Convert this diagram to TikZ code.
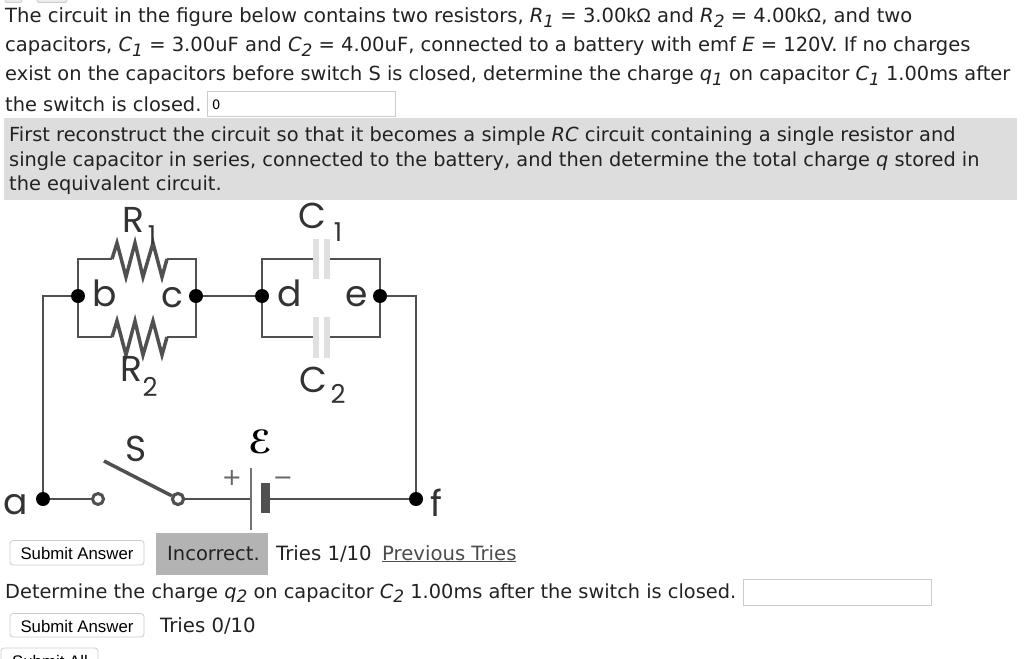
\documentclass[tikz,border=0pt]{standalone}
\usepackage{fontspec}
\setmainfont{DejaVu Sans}
\newfontfamily\btnfont{Liberation Sans}
\newfontfamily\figfont{Poppins}
\newcommand{\mi}[1]{\textit{#1}}
\newcommand{\sbs}[1]{\raisebox{-4.5pt}{\fontsize{17}{20}\selectfont\textit{#1}}}
\newcommand{\ohm}{{\btnfont kΩ}}
\newcommand{\sz}[1]{\fontsize{#1}{24}\selectfont}
\definecolor{txt}{HTML}{222222}
\definecolor{wirec}{HTML}{505050}
\definecolor{hintbg}{HTML}{DDDDDD}
\definecolor{badbg}{HTML}{B3B3B3}
\definecolor{boxline}{HTML}{CCCCCC}
\tikzset{
  x=1pt,y=-1pt,
  page/.style={anchor=base west,inner sep=0pt,font=\sz{19.4},text=txt},
  wire/.style={draw=wirec,line width=1.3pt},
  heavy/.style={draw=wirec,line width=3.5pt,line join=miter},
  dot/.style={circle,fill=black,inner sep=0pt,minimum size=14pt},
  term/.style={circle,draw=wirec,line width=3pt,fill=white,inner sep=0pt,minimum size=11pt},
  fig/.style={inner sep=0pt,font=\figfont\fontsize{36}{40}\selectfont,text=black!80},
  figsub/.style={inner sep=0pt,font=\figfont\fontsize{26}{30}\selectfont,text=black!80},
  button/.style={draw=boxline,fill=white,rounded corners=3pt,line width=0.8pt},
  stub/.style={draw=boxline,fill=black!8,rounded corners=2pt,line width=0.8pt},
  btntext/.style={inner sep=0pt,font=\btnfont\fontsize{16.8}{20}\selectfont,text=black},
  inputbox/.style={draw=boxline,fill=white,line width=1pt},
}
\begin{document}
\begin{tikzpicture}
\path[use as bounding box] (0,0) rectangle (1024,658);
\clip (0,0) rectangle (1024,658);
\fill[white] (0,0) rectangle (1024,658);
% cut-off buttons at the top edge
\path[stub] (5,-20) rectangle (22,2.5);
\path[stub] (37,-20) rectangle (67,2.5);
% question text
\node[page,font=\sz{19.55}] (l1) at (5,23) {The circuit in the figure below contains two resistors, \mi{R}\sbs{1} = 3.00\ohm{} and \mi{R}\sbs{2} = 4.00\ohm, and two};
\node[page,font=\sz{19.52}] (l2) at (5,52) {capacitors, \mi{C}\sbs{1} = 3.00uF and \mi{C}\sbs{2} = 4.00uF, connected to a battery with emf \mi{E} = 120V. If no charges};
\node[page,font=\sz{19.37}] (l3) at (5,81) {exist on the capacitors before switch S is closed, determine the charge \mi{q}\sbs{1} on capacitor \mi{C}\sbs{1} 1.00ms after};
\node[page] (l4) at (5,111) {the switch is closed.};
\path[inputbox] (207.5,91.5) rectangle (395.5,116.5);
\node[btntext,anchor=base west,font=\fontsize{13}{15}\selectfont] (val) at (212,110) {0};
% hint
\fill[hintbg] (4,118) rectangle (1017,200);
\node[page] (h1) at (9,141) {First reconstruct the circuit so that it becomes a simple \mi{RC} circuit containing a single resistor and};
\node[page,font=\sz{19.36}] (h2) at (9,166) {single capacitor in series, connected to the battery, and then determine the total charge \mi{q} stored in};
\node[page] (h3) at (9,190) {the equivalent circuit.};
% circuit nodes
\node[dot] (a) at (43,499) {};
\node[dot] (f) at (416,499) {};
\node[dot] (b) at (78,296) {};
\node[dot] (c) at (196,296) {};
\node[dot] (d) at (262,296) {};
\node[dot] (e) at (380,296) {};
\node[term] (s1) at (98,499) {};
\node[term] (s2) at (178,499) {};
\coordinate (r1l) at (112,259); \coordinate (r1r) at (167,259);
\coordinate (r2l) at (112,337); \coordinate (r2r) at (167,337);
\coordinate (c1l) at (314,259); \coordinate (c1r) at (329,259);
\coordinate (c2l) at (314,337); \coordinate (c2r) at (329,337);
\coordinate (batp) at (251,499); \coordinate (batm) at (265,499);
\coordinate (lever) at (104,461);
% wires
\draw[wire] (b) -- (b|-r1l) -- (r1l);
\draw[wire] (r1r) -- (c|-r1r) -- (c);
\draw[wire] (b) -- (b|-r2l) -- (r2l);
\draw[wire] (r2r) -- (c|-r2r) -- (c);
\draw[wire] (d) -- (d|-c1l) -- (c1l);
\draw[wire] (c1r) -- (e|-c1r) -- (e);
\draw[wire] (d) -- (d|-c2l) -- (c2l);
\draw[wire] (c2r) -- (e|-c2r) -- (e);
\draw[wire] (c) -- (d);
\draw[wire] (b) -| (a);
\draw[wire] (e) -| (f);
\draw[wire] (a) -- (s1);
\draw[wire] (s2) -- (batp);
\draw[wire] (batm) -- (f);
% resistors
\draw[heavy] (r1l) -- ++(5,-16) -- ++(9,34) -- ++(9,-34) -- ++(8,34) -- ++(10,-34) -- ++(9,34) -- (r1r);
\draw[heavy] (r2l) -- ++(5,-16) -- ++(9,34) -- ++(9,-34) -- ++(8,34) -- ++(10,-34) -- ++(9,34) -- (r2r);
% capacitors
\draw[draw=black!12,line width=5.5pt] (316,239) -- (316,279) (327,239) -- (327,279);
\draw[draw=black!12,line width=5.5pt] (316,317) -- (316,358) (327,317) -- (327,358);
% switch
\draw[wirec,line width=3.5pt] (lever) -- (s2);
\node[term] at (s2) {};
% battery
\draw[draw=black!55,line width=1.5pt] (251,468) -- (251,530);
\fill[wirec] (260.5,483) rectangle (269.5,513);
\node[inner sep=0pt,font=\fontsize{24}{24}\selectfont,text=black!60] (plus) at (232,478) {+};
\node[inner sep=0pt,font=\fontsize{24}{24}\selectfont,text=black!60] (minus) at (283,481) {−};
% circuit labels
\node[fig] (lb) at (105,293.5) {b};
\node[fig] (lc) at (172.5,298) {c};
\node[fig] (ld) at (289.5,293.5) {d};
\node[fig] (le) at (356.5,297) {e};
\node[fig] (la) at (16,505) {a};
\node[fig] (lf) at (436,503) {f};
\node[fig] (lS) at (136,449) {S};
\node[inner sep=0pt,font=\fontsize{32}{34}\itshape\bfseries\selectfont,text=black] (lE) at (260,442) {ℰ};
\node[fig] (lR1) at (133,220) {R};
\node[figsub] (sR1) at (152,235) {1};
\node[fig] (lC1) at (312,216) {C};
\node[figsub] (sC1) at (338,232) {1};
\node[fig] (lR2) at (131,369) {R};
\node[figsub] (sR2) at (150,387) {2};
\node[fig] (lC2) at (313,380) {C};
\node[figsub] (sC2) at (338,394) {2};
% feedback row
\path[button] (10,540.5) rectangle (144,565);
\node[btntext] (b1) at (77,553) {Submit Answer};
\fill[badbg] (156,533) rectangle (268,575);
\node[page,font=\sz{19.5}] (inc) at (167,560) {Incorrect.};
\node[page,font=\sz{19.7}] (tr1) at (276,560) {Tries 1/10};
\node[page,font=\sz{19.65},text=black!70] (prev) at (382,560) {\underline{Previous Tries}};
\node[page,font=\sz{19.35}] (q2) at (5,598) {Determine the charge \mi{q}\sbs{2} on capacitor \mi{C}\sbs{2} 1.00ms after the switch is closed.};
\path[inputbox] (743.5,579.5) rectangle (931.5,605.5);
\path[button] (10,613.5) rectangle (144,637);
\node[btntext] (b2) at (77,626) {Submit Answer};
\node[page,font=\sz{19.7}] (tr2) at (160,632) {Tries 0/10};
\path[button] (1,648) rectangle (98,680);
\node[btntext] (b3) at (50,661) {Submit All};
\end{tikzpicture}
\end{document}
